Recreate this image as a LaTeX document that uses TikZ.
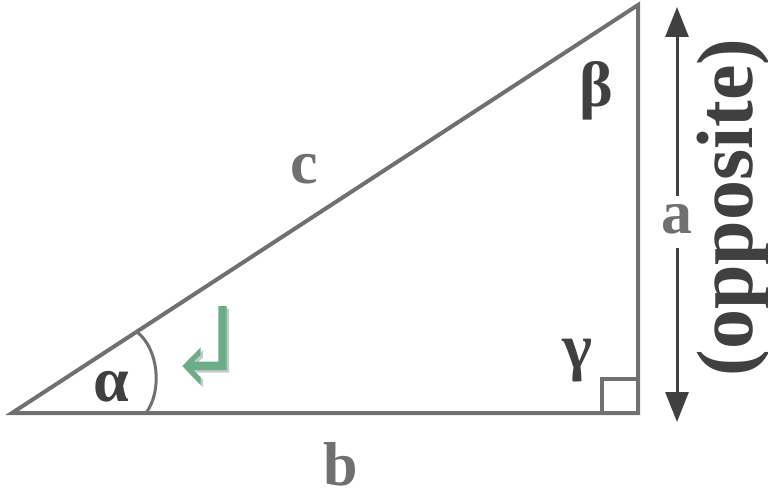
\documentclass[tikz,border=0pt]{standalone}
\usepackage{fontspec}
\setmainfont{Liberation Serif}
\usetikzlibrary{arrows.meta}
\definecolor{trigray}{HTML}{707070}
\definecolor{darktext}{HTML}{404040}
\definecolor{arrgreen}{HTML}{6CAD89}
\definecolor{shadowgray}{HTML}{C8C8C8}
\tikzset{
  side/.style={draw=trigray, line width=4pt, line join=miter},
  sidelabel/.style={text=trigray, font=\fontsize{62}{62}\selectfont\bfseries, inner sep=0pt, anchor=base},
  anglabel/.style={text=darktext, font=\fontsize{64}{64}\selectfont\bfseries, inner sep=0pt, anchor=base},
  dimarrow/.style={draw=darktext, line width=3pt, -{Triangle[length=30pt,width=23pt]}},
  bigtext/.style={text=darktext, font=\fontsize{80}{80}\selectfont\bfseries, inner sep=0pt, anchor=base, rotate=90},
}
\begin{document}
\begin{tikzpicture}[x=1pt,y=-1pt]
\useasboundingbox (0,0) rectangle (768,500);
% vertices
\coordinate (A) at (12,413);
\coordinate (B) at (638,413);
\coordinate (C) at (638,5);
\draw[side] (A) -- (B) -- (C) -- cycle;
% right angle mark
\coordinate (Q1) at (602,413);
\coordinate (Q2) at (602,379);
\coordinate (Q3) at (638,379);
\draw[draw=trigray, line width=4pt] (Q1) -- (Q2) -- (Q3);
% angle arc at alpha
\coordinate (R1) at (137,332);
\coordinate (R2) at (146,413);
\draw[draw=trigray, line width=3pt] (R1) .. controls (158,348) and (163,390) .. (R2);
% side labels
\node[sidelabel] (c) at (304,183) {c};
\node[sidelabel] (b) at (341,485) {b};
\node[sidelabel] (a) at (677,233) {a};
% angle labels
\node[anglabel] (alpha) at (111,401) {α};
\node[anglabel] (beta) at (596,107) {β};
\node[anglabel] (gamma) at (577,368) {γ};
% dimension arrow
\coordinate (atop) at (677,7);
\coordinate (abot) at (677,422);
\draw[dimarrow] ([yshift=8pt]a.north) -- (atop);
\draw[dimarrow] ([yshift=-14pt]a.south) -- (abot);
% (opposite)
\node[bigtext] (opp) at (752,207.5) {(opposite)};
% green arrow with shadow
\def\greenarrow{(182.3,366) -- (200.7,347.3) -- (200.7,355) -- (193.3,361.7) -- (218.3,361.7) -- (218.3,306) -- (226.7,306) -- (226.7,370) -- (193.3,370) -- (200.7,377.3) -- (200.7,385) -- cycle}
\fill[shadowgray, shift={(2.5,2.5)}] \greenarrow;
\fill[arrgreen] \greenarrow;
\end{tikzpicture}
\end{document}
